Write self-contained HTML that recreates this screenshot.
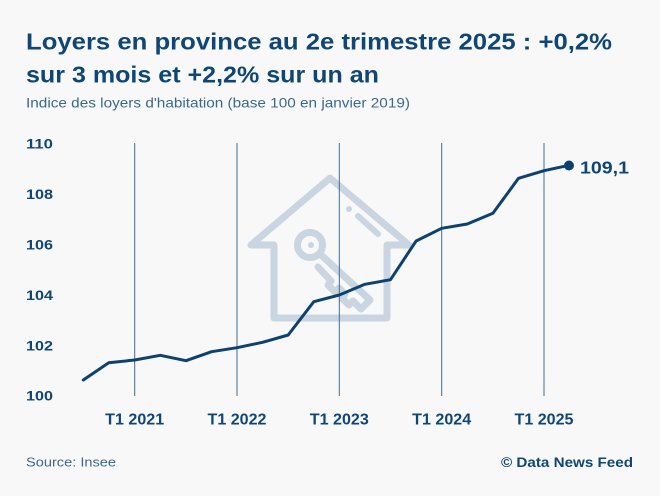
<!DOCTYPE html>
<html><head><meta charset="utf-8"><style>
html,body{margin:0;padding:0;background:#f8f8f8;}
svg{display:block;}
text{font-family:"Liberation Sans",sans-serif;}
</style></head><body>
<svg width="660" height="496" viewBox="0 0 660 496" xmlns="http://www.w3.org/2000/svg">
<rect width="660" height="496" fill="#f8f8f8"/>
<text x="26" y="49.5" font-size="23" font-weight="bold" fill="#0f4675" textLength="586" lengthAdjust="spacingAndGlyphs">Loyers en province au 2e trimestre 2025 : +0,2%</text>
<text x="26" y="82.5" font-size="23" font-weight="bold" fill="#0f4675" textLength="353" lengthAdjust="spacingAndGlyphs">sur 3 mois et +2,2% sur un an</text>
<text x="26" y="107.3" font-size="14" fill="#3b6890" textLength="384" lengthAdjust="spacingAndGlyphs">Indice des loyers d'habitation (base 100 en janvier 2019)</text>

<!-- house icon -->
<g fill="none" stroke="#c9d6e1" stroke-width="7" stroke-linejoin="round" stroke-linecap="round">
<path d="M274,318 L274,245 L251,245 L330,178 L409,245 L387,245 L387,318 Z"/>
<circle cx="310" cy="245" r="12.5"/>
<path d="M320,254 L370,300 L361,309 L353,301 L349,305 L342,298 L345,294 L339,288 L335,292 L328,285 L331,281 L318,267"/>
</g>
<g stroke="#c9d6e1" stroke-linecap="round" fill="#c9d6e1">
<circle cx="349" cy="209" r="3" stroke="none"/>
<line x1="358" y1="216" x2="378" y2="234" stroke-width="6"/>
<circle cx="311" cy="245" r="3" stroke="none"/>
</g>

<!-- gridlines -->
<g stroke="#3f6c94" stroke-width="1">
<line x1="134.7" y1="143" x2="134.7" y2="396"/>
<line x1="237" y1="143" x2="237" y2="396"/>
<line x1="339.3" y1="143" x2="339.3" y2="396"/>
<line x1="441.7" y1="143" x2="441.7" y2="396"/>
<line x1="544" y1="143" x2="544" y2="396"/>
</g>

<!-- y labels -->
<g font-size="14" font-weight="bold" fill="#0f4675">
<text x="26" y="148.3" textLength="27" lengthAdjust="spacingAndGlyphs">110</text>
<text x="26" y="198.8" textLength="27" lengthAdjust="spacingAndGlyphs">108</text>
<text x="26" y="249.3" textLength="27" lengthAdjust="spacingAndGlyphs">106</text>
<text x="26" y="299.8" textLength="27" lengthAdjust="spacingAndGlyphs">104</text>
<text x="26" y="350.3" textLength="27" lengthAdjust="spacingAndGlyphs">102</text>
<text x="26" y="400.6" textLength="27" lengthAdjust="spacingAndGlyphs">100</text>
</g>

<!-- x labels -->
<g font-size="16" font-weight="bold" fill="#0f4675">
<text x="105.2" y="424.3" textLength="59" lengthAdjust="spacingAndGlyphs">T1 2021</text>
<text x="207.5" y="424.3" textLength="59" lengthAdjust="spacingAndGlyphs">T1 2022</text>
<text x="309.8" y="424.3" textLength="59" lengthAdjust="spacingAndGlyphs">T1 2023</text>
<text x="412.2" y="424.3" textLength="59" lengthAdjust="spacingAndGlyphs">T1 2024</text>
<text x="514.5" y="424.3" textLength="59" lengthAdjust="spacingAndGlyphs">T1 2025</text>
</g>

<!-- series -->
<polyline fill="none" stroke="#0d4270" stroke-width="3" stroke-linejoin="round" stroke-linecap="round"
points="83.3,380 108.7,362.7 134.7,360 160.3,355.3 186,360.7 211.6,351.7 237,347.7 262.6,342.3 288.2,335 313.8,301.7 339.3,295 364.9,284.3 390.5,279.7 416.1,241 441.7,228.3 467.3,224 492.9,213.3 518.5,178.3 544,170.7 569,165.3"/>
<circle cx="569" cy="165.5" r="5" fill="#0d4270"/>
<text x="580" y="173.3" font-size="17.5" font-weight="bold" fill="#0f4675" textLength="49" lengthAdjust="spacingAndGlyphs">109,1</text>

<!-- footer -->
<text x="26" y="466.3" font-size="13" fill="#3b6890" textLength="90" lengthAdjust="spacingAndGlyphs">Source: Insee</text>
<text x="501" y="466.8" font-size="14" font-weight="bold" fill="#0f4675" textLength="132" lengthAdjust="spacingAndGlyphs">© Data News Feed</text>
</svg>
</body></html>
